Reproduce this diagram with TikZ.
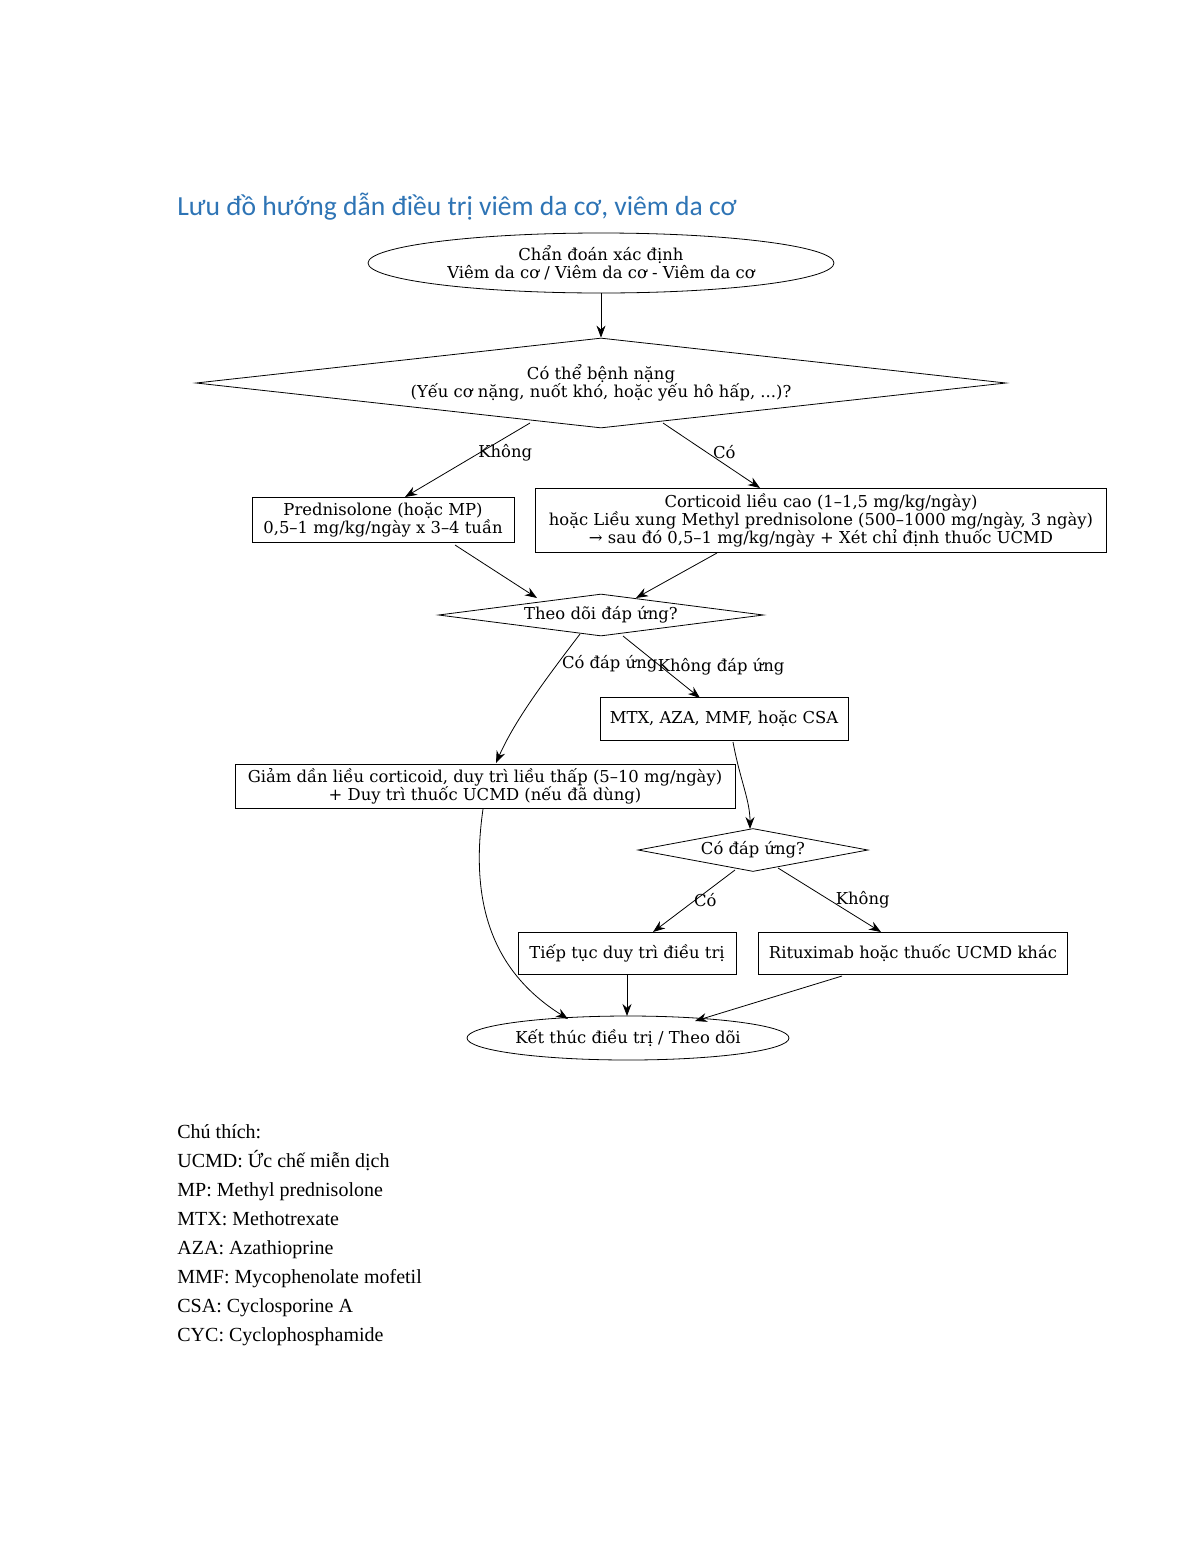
\documentclass[tikz,border=0pt]{standalone}
\usepackage{fontspec}
\setmainfont{DejaVu Serif}
\newfontfamily\titlefont{Carlito}
\newfontfamily\legfont{Liberation Serif}
\usetikzlibrary{shapes.geometric,arrows.meta}
\definecolor{titleblue}{HTML}{2E74B5}
\begin{document}
\begin{tikzpicture}[x=0.5pt,y=-0.5pt,
  every node/.style={font=\fontsize{8.2}{9}\selectfont},
  box/.style={draw,rectangle,inner sep=0pt,align=center},
  el/.style={draw,ellipse,inner sep=0pt,align=center},
  dia/.style={draw,diamond,inner sep=0pt,align=center},
  ar/.style={-{Stealth[length=6pt,width=4.5pt]},thin},
  lb/.style={font=\fontsize{8.2}{9}\selectfont,inner sep=1pt},
  leg/.style={anchor=base west,inner sep=0pt,font=\legfont\fontsize{10}{12}\selectfont}]
\useasboundingbox (0,0) rectangle (1200,1553);
\node[anchor=base west,font=\titlefont\fontsize{13.8}{15}\selectfont,text=titleblue,inner sep=0pt] (title) at (177,215) {Lưu đồ hướng dẫn điều trị viêm da cơ, viêm da cơ};
\node[el,minimum width=233pt,minimum height=30pt] (start) at (601,263) {Chẩn đoán xác định\\Viêm da cơ / Viêm da cơ - Viêm da cơ};
\node[dia,minimum width=405pt,minimum height=45pt,aspect=9] (d1) at (601,383) {};
\node (d1t) at (601,383) [align=center] {Có thể bệnh nặng\\(Yếu cơ nặng, nuốt khó, hoặc yếu hô hấp, ...)?};
\node[box,minimum width=131pt,minimum height=22.5pt] (pred) at (383,520) {Prednisolone (hoặc MP)\\0,5–1 mg/kg/ngày x 3–4 tuần};
\node[box,minimum width=285.5pt,minimum height=32pt] (cort) at (821,520) {Corticoid liều cao (1–1,5 mg/kg/ngày)\\hoặc Liều xung Methyl prednisolone (500–1000 mg/ngày, 3 ngày)\\→ sau đó 0,5–1 mg/kg/ngày + Xét chỉ định thuốc UCMD};
\node[dia,minimum width=162.5pt,minimum height=21pt,aspect=7.7] (d2) at (601,615) {};
\node (d2t) at (601,615) {Theo dõi đáp ứng?};
\node[box,minimum width=124pt,minimum height=21.5pt] (mtx) at (724,719) {MTX, AZA, MMF, hoặc CSA};
\node[box,minimum width=250pt,minimum height=22pt] (giam) at (485,786) {Giảm dần liều corticoid, duy trì liều thấp (5–10 mg/ngày)\\+ Duy trì thuốc UCMD (nếu đã dùng)};
\node[dia,minimum width=115pt,minimum height=21.5pt,aspect=5.3] (d3) at (753,850) {};
\node (d3t) at (753,850) {Có đáp ứng?};
\node[box,minimum width=109pt,minimum height=21pt] (tiep) at (627,953) {Tiếp tục duy trì điều trị};
\node[box,minimum width=154.5pt,minimum height=21pt] (ritu) at (913,953) {Rituximab hoặc thuốc UCMD khác};
\node[el,minimum width=161pt,minimum height=22pt] (end) at (628,1038) {Kết thúc điều trị / Theo dõi};
% connector end points
\coordinate (a1) at (530,423); \coordinate (b1) at (405,497);
\coordinate (a2) at (663,423); \coordinate (b2) at (760,488);
\coordinate (a3) at (455,545); \coordinate (b3) at (537,598);
\coordinate (a4) at (717,553); \coordinate (b4) at (636,598);
\coordinate (a5) at (580,634); \coordinate (b5) at (496,763);
\coordinate (a6) at (623,636); \coordinate (b6) at (700,698);
\coordinate (a7) at (733,742); \coordinate (b7) at (750,829);
\coordinate (a8) at (735,870); \coordinate (b8) at (653,932);
\coordinate (a9) at (778,868); \coordinate (b9) at (881,932);
\coordinate (a10) at (627,975); \coordinate (b10) at (627,1016);
\coordinate (a11) at (842,976); \coordinate (b11) at (695,1021);
\coordinate (a12) at (483,809); \coordinate (b12) at (568,1019);
\draw[ar] (start) -- (d1);
\draw[ar] (a1) -- node[lb,pos=0.4,anchor=west,xshift=-2pt] {Không} (b1);
\draw[ar] (a2) -- node[lb,pos=0.45,anchor=west,xshift=2pt] {Có} (b2);
\draw[ar] (a3) -- (b3);
\draw[ar] (a4) -- (b4);
\draw[ar] (a5) .. controls (545,680) and (515,720) .. node[lb,pos=0.22,anchor=west,xshift=1pt] {Có đáp ứng} (b5);
\draw[ar] (a6) -- node[lb,pos=0.5,anchor=west,xshift=-3pt] {Không đáp ứng} (b6);
\draw[ar] (a7) .. controls (740,780) and (750,800) .. (b7);
\draw[ar] (a8) -- node[lb,pos=0.48,anchor=west,xshift=-2pt] {Có} (b8);
\draw[ar] (a9) -- node[lb,pos=0.5,anchor=west,xshift=2pt] {Không} (b9);
\draw[ar] (a10) -- (b10);
\draw[ar] (a11) -- (b11);
\draw[ar] (a12) .. controls (470,900) and (490,970) .. (b12);
% legend
\node[leg] (l0) at (177,1138) {Chú thích:};
\node[leg] (l1) at (177,1167) {UCMD: Ức chế miễn dịch};
\node[leg] (l2) at (177,1196) {MP: Methyl prednisolone};
\node[leg] (l3) at (177,1225) {MTX: Methotrexate};
\node[leg] (l4) at (177,1254) {AZA: Azathioprine};
\node[leg] (l5) at (177,1283) {MMF: Mycophenolate mofetil};
\node[leg] (l6) at (177,1312) {CSA: Cyclosporine A};
\node[leg] (l7) at (177,1341) {CYC: Cyclophosphamide};
\end{tikzpicture}
\end{document}
